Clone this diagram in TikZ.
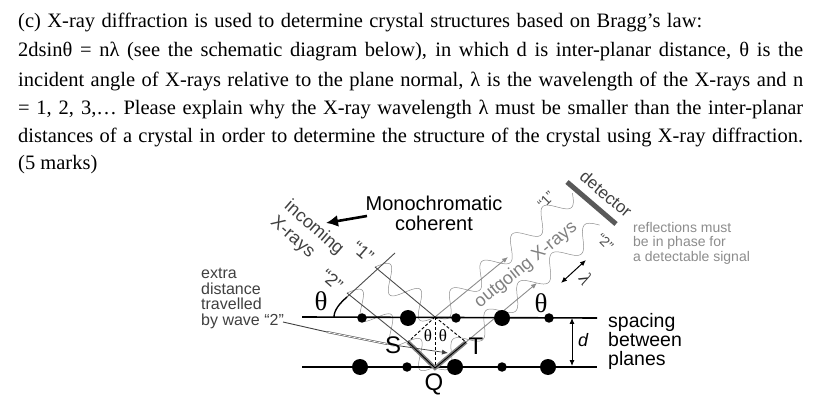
\documentclass[tikz,border=0pt]{standalone}
\usepackage{fontspec}
\setmainfont{Liberation Serif}
\setsansfont{Liberation Sans}
\usetikzlibrary{arrows.meta}
\tikzset{
 body/.style={anchor=base west,inner sep=0pt,font=\fontsize{20.5}{22}\selectfont},
 lab/.style={inner sep=0pt,font=\sffamily\fontsize{24}{26}\selectfont,align=center},
 smalllab/.style={inner sep=0pt,font=\sffamily\fontsize{16}{15.5}\selectfont,align=left,text=black!75},
 faint/.style={inner sep=0pt,font=\sffamily\fontsize{14}{14.6}\selectfont,align=left,text=black!45},
 grayrot/.style={inner sep=0pt,font=\sffamily\fontsize{18}{21}\selectfont,text=black!60},
 plane/.style={line width=1.6pt,black},
 atomB/.style={circle,fill=black,inner sep=0pt,minimum size=16pt},
 atomS/.style={circle,fill=black,inner sep=0pt,minimum size=9.5pt},
 ray/.style={line width=.9pt,black!70},
 outray/.style={line width=.9pt,black!45,-{Latex[length=6pt,width=5pt]}},
 wave/.style={line width=.5pt,black!45},
 thetabig/.style={inner sep=0pt,font=\fontsize{27}{29}\selectfont},
 thetasmall/.style={inner sep=0pt,font=\fontsize{17}{19}\selectfont}
}
\begin{document}
\begin{tikzpicture}[x=1pt,y=-1pt]
\useasboundingbox (0,0) rectangle (822,403);
% body text
\node[body] (t1) at (18,28) {\makebox[684pt][s]{(c) X-ray diffraction is used to determine crystal structures based on Bragg’s law:}};
\node[body] (t2) at (18,57) {\makebox[785pt][s]{2dsinθ = nλ (see the schematic diagram below), in which d is inter-planar distance, θ is the}};
\node[body] (t3) at (18,87) {\makebox[785pt][s]{incident angle of X-rays relative to the plane normal, λ is the wavelength of the X-rays and n}};
\node[body] (t4) at (18,115) {\makebox[785pt][s]{= 1, 2, 3,… Please explain why the X-ray wavelength λ must be smaller than the inter-planar}};
\node[body] (t5) at (18,143) {\makebox[785pt][s]{distances of a crystal in order to determine the structure of the crystal using X-ray diffraction.}};
\node[body] (t6) at (18,170) {(5 marks)};
% geometry coordinates
\coordinate (P) at (435,317); \coordinate (Q) at (435,368);
\coordinate (S) at (408,342); \coordinate (T) at (466,342);
\coordinate (A) at (375,267); \coordinate (B) at (347,293);
\coordinate (W1) at (395,253); \coordinate (W2) at (347,297);
\coordinate (O1) at (508,257); \coordinate (O2) at (537,283);
\coordinate (PR1) at (597,318); \coordinate (PL1) at (302,317);
\coordinate (PR2) at (597,367); \coordinate (PL2) at (302,367);
% waves
\draw[wave,shift={(A)},rotate=-40] plot[domain=0:78,samples=50,smooth] (\x,{-12*sin(\x*9.2)});
\draw[wave,shift={(B)},rotate=-40] plot[domain=0:115,samples=70,smooth] (\x,{-12*sin(\x*9.4)});
\draw[wave,shift={(P)},rotate=42] plot[domain=0:185,samples=110,smooth] (\x,{10*sin(\x*8.76)});
\draw[wave,shift={(Q)},rotate=41] plot[domain=0:218,samples=130,smooth] (\x,{10*sin(\x*8.26)});
% rays
\draw[ray] (W1) -- (W2);
\draw[line width=1.4pt] (W2) .. controls (340,303) and (334,310) .. (334,317);
\draw[ray] (A) -- (P);
\draw[ray] (B) -- (S);
\draw[outray] (P) -- (O1);
\draw[outray] (T) -- (O2);
% planes and atoms
\draw[plane] (PL1) -- (PR1);
\draw[plane] (PL2) -- (PR2);
\node[atomS] (a1) at (362,318) {};
\node[atomB] (a2) at (408,318) {};
\node[atomS] (a3) at (456,318) {};
\node[atomB] (a4) at (502,318) {};
\node[atomS] (a5) at (549,318) {};
\node[atomB] (b1) at (360,367) {};
\node[atomS] (b2) at (407,367) {};
\node[atomB] (b3) at (455,367) {};
\node[atomS] (b4) at (502,367) {};
\node[atomB] (b5) at (548,367) {};
% triangle
\draw[line width=.9pt,dash pattern=on 3pt off 2pt] (P) -- (Q);
\draw[line width=.9pt,dash pattern=on 3pt off 2pt] (P) -- (S);
\draw[line width=.9pt,dash pattern=on 3pt off 2pt] (P) -- (T);
\draw[line width=4pt,black!50] (S) -- (Q) -- (T);
\draw[line width=.9pt,black] (S) -- (Q) -- (T);
% extra distance pointer
\coordinate (E) at (283,322);
\coordinate (E1) at (327,332);
\coordinate (E2) at (387,344);
\coordinate (E3) at (448,353);
\draw[line width=.9pt,black!75] (E) -- (E1);
\draw[line width=1.9pt,black!70] (E1) -- (E2);
\draw[line width=.7pt,white] (E1) -- (E2);
\draw[line width=.7pt,black!75,-{Latex[length=6pt,width=5pt]}] (E2) -- (E3);
% labels
\node[inner sep=0pt,font=\sffamily\fontsize{20}{20}\selectfont,align=center] (mono) at (434,213) {Monochromatic\\coherent};
\coordinate (M1) at (367,216); \coordinate (M2) at (326,223);
\draw[line width=2.6pt,-{Latex[length=12pt,width=12pt]}] (M1) -- (M2);
\node[grayrot,rotate=-41,text=black!75,align=left] (inc) at (307,236) {incoming\\X-rays};
\node[grayrot,rotate=-41,text=black!75] (l1) at (363,252) {“1”};
\node[grayrot,rotate=-41,text=black!75] (l2) at (332,280) {“2”};
\node[thetabig] (th1) at (321,301) {θ};
\node[thetabig] (th2) at (541,303) {θ};
\node[thetasmall] (th3) at (428,336) {θ};
\node[thetasmall] (th4) at (443,336) {θ};
\node[smalllab,anchor=north west] (extra) at (201,268) {extra\\distance\\travelled\\by wave “2”};
\node[lab] (Sl) at (393,345) {S};
\node[lab] (Tl) at (476,346) {T};
\node[lab] (Ql) at (434,384) {Q};
\node[inner sep=0pt,font=\sffamily\fontsize{19.5}{19.3}\selectfont,align=left,anchor=north west] (sp) at (608,313) {spacing\\between\\planes};
\draw[line width=.9pt,{Latex[length=6pt,width=5pt]}-{Latex[length=6pt,width=5pt]}] (572,318) -- (572,366);
\node[inner sep=0pt,font=\sffamily\itshape\fontsize{18}{18}\selectfont] (d) at (583,340) {d};
\node[grayrot,rotate=39,text=black!50] (out) at (526,265) {outgoing X-rays};
\node[inner sep=0pt,font=\sffamily\fontsize{14}{14}\selectfont,rotate=45,text=black!70] (o1) at (546,200) {“1”};
\node[inner sep=0pt,font=\sffamily\fontsize{14}{14}\selectfont,rotate=-45,text=black!70] (o2) at (605,242) {“2”};
\draw[line width=5pt,black!65] (567,182) -- (616,224);
\node[inner sep=0pt,font=\sffamily\fontsize{17}{19}\selectfont,rotate=-40,text=black!75] (det) at (606,194) {detector};
\node[faint,anchor=north west] (ref) at (633,222) {reflections must\\be in phase for\\a detectable signal};
\draw[line width=1pt,{Latex[length=6pt,width=5pt]}-{Latex[length=6pt,width=5pt]}] (561,283) -- (586,260);
\node[inner sep=0pt,font=\fontsize{19}{21}\selectfont,rotate=-60,text=black!80] (lam) at (586,279) {λ};
\end{tikzpicture}
\end{document}
